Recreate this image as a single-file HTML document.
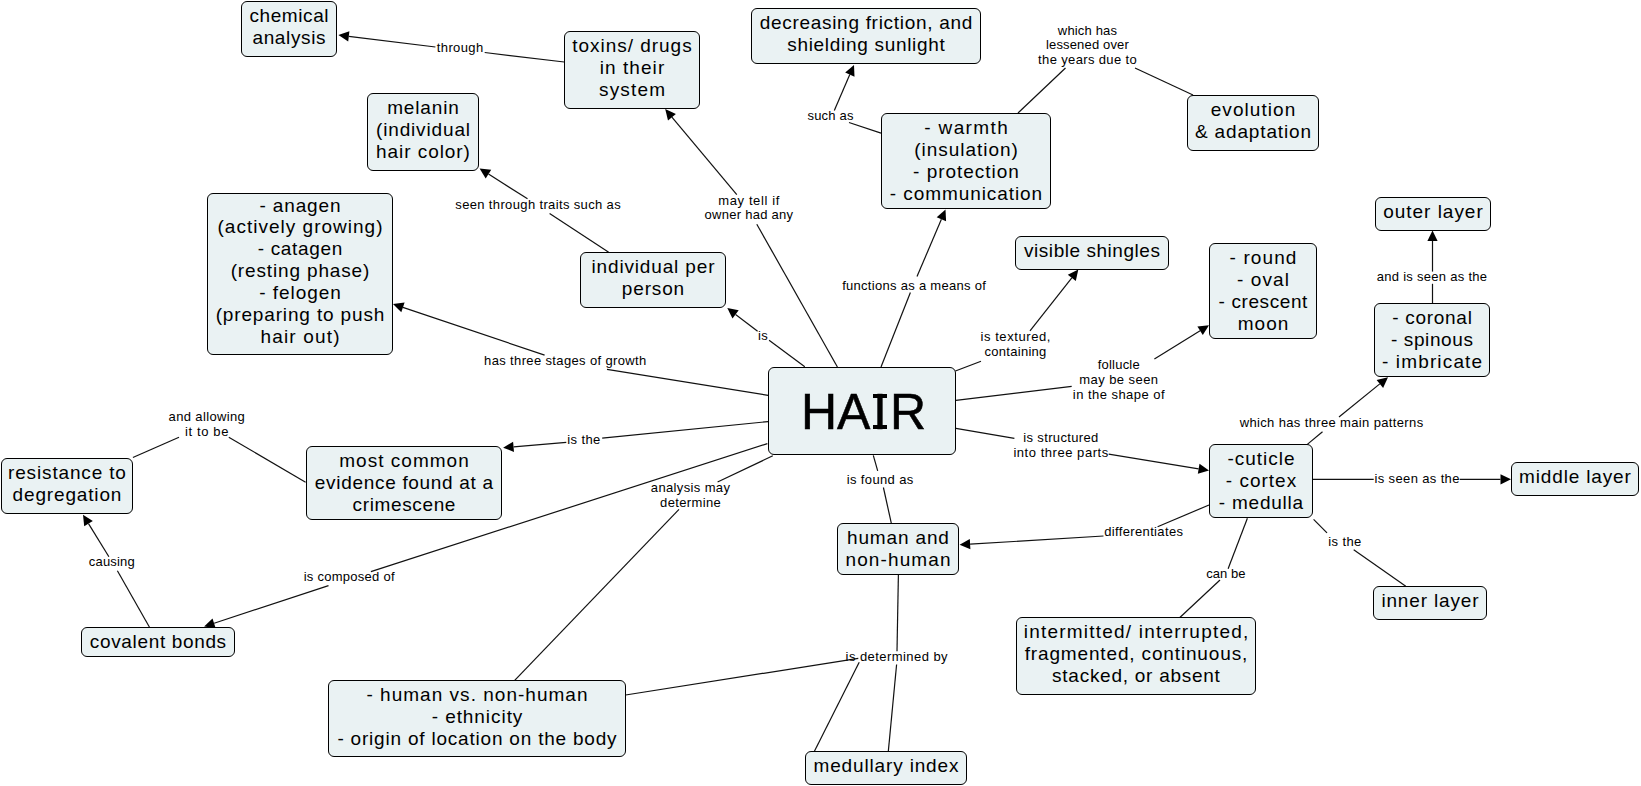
<!DOCTYPE html>
<html><head><meta charset="utf-8"><title>HAIR concept map</title>
<style>
html,body{margin:0;padding:0;background:#fff;}
body{width:1641px;height:786px;position:relative;overflow:hidden;font-family:"Liberation Sans",sans-serif;color:#000;}
.b{position:absolute;box-sizing:border-box;border:1px solid #000;border-radius:6px;background:#eaf2f3;}
.t,.l{position:absolute;white-space:nowrap;line-height:30px;height:30px;transform:translateX(-50%);text-align:center;}
.t{font-size:19.00px;letter-spacing:0.85px;}
.l{font-size:13.00px;letter-spacing:0.36px;}
svg{position:absolute;left:0;top:0;}
</style></head><body>
<svg width="1641" height="786" viewBox="0 0 1641 786">
<g stroke="#111" stroke-width="1.2" fill="none">
<line x1="564.2" y1="62.0" x2="484.7" y2="52.5"/>
<line x1="435.4" y1="47.0" x2="348.8" y2="36.3"/>
<line x1="837.4" y1="367.0" x2="756.8" y2="224.2"/>
<line x1="736.8" y1="194.6" x2="671.9" y2="117.2"/>
<line x1="608.7" y1="252.3" x2="549.6" y2="213.5"/>
<line x1="527.5" y1="198.8" x2="488.5" y2="174.1"/>
<line x1="804.8" y1="366.7" x2="769.1" y2="340.2"/>
<line x1="757.6" y1="331.2" x2="735.6" y2="314.4"/>
<line x1="768.1" y1="395.3" x2="607.0" y2="369.3"/>
<line x1="544.6" y1="355.1" x2="402.9" y2="307.4"/>
<line x1="881.0" y1="367.0" x2="910.4" y2="292.5"/>
<line x1="917.0" y1="276.6" x2="941.4" y2="219.2"/>
<line x1="881.0" y1="133.1" x2="849.0" y2="122.5"/>
<line x1="834.3" y1="110.6" x2="849.8" y2="74.6"/>
<line x1="1018.0" y1="113.0" x2="1065.5" y2="68.0"/>
<line x1="1135.0" y1="68.0" x2="1193.0" y2="95.0"/>
<line x1="955.4" y1="371.0" x2="981.0" y2="361.3"/>
<line x1="1030.0" y1="330.8" x2="1071.8" y2="277.8"/>
<line x1="955.9" y1="400.3" x2="1071.7" y2="386.4"/>
<line x1="1154.4" y1="359.0" x2="1200.1" y2="330.7"/>
<line x1="955.9" y1="428.4" x2="1014.4" y2="438.4"/>
<line x1="1108.7" y1="454.2" x2="1198.6" y2="468.8"/>
<line x1="1307.0" y1="444.6" x2="1322.5" y2="431.7"/>
<line x1="1339.0" y1="417.0" x2="1379.8" y2="383.9"/>
<line x1="1432.5" y1="303.4" x2="1432.5" y2="283.8"/>
<line x1="1432.5" y1="271.6" x2="1432.5" y2="241.0"/>
<line x1="1312.7" y1="479.3" x2="1373.7" y2="479.3"/>
<line x1="1459.7" y1="479.3" x2="1500.5" y2="479.3"/>
<line x1="1313.6" y1="519.4" x2="1327.0" y2="532.8"/>
<line x1="1353.7" y1="549.7" x2="1405.8" y2="586.2"/>
<line x1="1247.4" y1="518.3" x2="1228.1" y2="568.8"/>
<line x1="1220.0" y1="580.0" x2="1179.6" y2="617.8"/>
<line x1="1209.0" y1="505.0" x2="1157.6" y2="526.7"/>
<line x1="1103.5" y1="536.0" x2="970.1" y2="544.2"/>
<line x1="873.3" y1="455.4" x2="877.7" y2="470.8"/>
<line x1="883.4" y1="487.5" x2="891.4" y2="523.6"/>
<line x1="768.1" y1="421.6" x2="602.2" y2="438.2"/>
<line x1="566.3" y1="442.4" x2="513.6" y2="446.8"/>
<line x1="132.9" y1="457.5" x2="179.0" y2="437.2"/>
<line x1="228.8" y1="437.2" x2="305.6" y2="482.3"/>
<line x1="149.5" y1="627.3" x2="117.4" y2="570.8"/>
<line x1="108.9" y1="556.8" x2="88.5" y2="523.6"/>
<line x1="767.4" y1="443.6" x2="370.9" y2="571.6"/>
<line x1="328.5" y1="585.6" x2="214.1" y2="623.3"/>
<line x1="772.8" y1="455.8" x2="717.6" y2="482.0"/>
<line x1="679.0" y1="509.3" x2="514.7" y2="680.4"/>
<line x1="898.4" y1="574.2" x2="897.0" y2="651.3"/>
<line x1="896.6" y1="664.5" x2="888.3" y2="751.6"/>
<line x1="625.6" y1="695.0" x2="858.3" y2="658.4"/>
<line x1="859.2" y1="662.3" x2="814.3" y2="751.6"/>
</g><g fill="#000">
<polygon points="338.4,35.0 349.4,31.2 348.2,41.4"/>
<polygon points="665.2,109.1 675.9,113.9 668.0,120.4"/>
<polygon points="479.6,168.5 491.2,169.8 485.7,178.4"/>
<polygon points="727.3,308.0 738.7,310.3 732.5,318.4"/>
<polygon points="393.0,304.0 404.6,302.5 401.3,312.2"/>
<polygon points="945.5,209.5 946.1,221.2 936.7,217.2"/>
<polygon points="854.0,65.0 854.5,76.7 845.2,72.6"/>
<polygon points="1078.3,269.6 1075.8,281.0 1067.8,274.7"/>
<polygon points="1209.0,325.2 1202.8,335.1 1197.4,326.4"/>
<polygon points="1209.0,470.5 1197.8,473.8 1199.5,463.8"/>
<polygon points="1388.0,377.3 1383.1,387.9 1376.6,379.9"/>
<polygon points="1432.5,230.5 1437.6,241.0 1427.4,241.0"/>
<polygon points="1511.0,479.3 1500.5,484.4 1500.5,474.2"/>
<polygon points="959.6,544.8 969.8,539.1 970.4,549.2"/>
<polygon points="503.1,447.7 513.1,441.7 514.0,451.9"/>
<polygon points="83.0,514.7 92.8,521.0 84.2,526.3"/>
<polygon points="204.1,626.6 212.5,618.5 215.7,628.2"/>
</g></svg>
<div class="b" style="left:241px;top:1px;width:96px;height:56px"></div>
<div class="t" style="left:289.29px;top:1px;letter-spacing:0.579px">chemical</div>
<div class="t" style="left:289.31px;top:23px;letter-spacing:0.621px">analysis</div>
<div class="b" style="left:564px;top:31px;width:136px;height:78px"></div>
<div class="t" style="left:632.48px;top:31px;letter-spacing:0.967px">toxins/ drugs</div>
<div class="t" style="left:632.53px;top:53px;letter-spacing:1.064px">in their</div>
<div class="t" style="left:632.58px;top:75px;letter-spacing:1.150px">system</div>
<div class="b" style="left:751px;top:8px;width:230px;height:56px"></div>
<div class="t" style="left:866.35px;top:8px;letter-spacing:0.707px">decreasing friction, and</div>
<div class="t" style="left:866.35px;top:30px;letter-spacing:0.697px">shielding sunlight</div>
<div class="b" style="left:1187px;top:95px;width:132px;height:56px"></div>
<div class="t" style="left:1253.54px;top:95px;letter-spacing:1.075px">evolution</div>
<div class="t" style="left:1253.42px;top:117px;letter-spacing:0.850px">&amp; adaptation</div>
<div class="b" style="left:367px;top:93px;width:112px;height:78px"></div>
<div class="t" style="left:423.43px;top:93px;letter-spacing:0.850px">melanin</div>
<div class="t" style="left:423.43px;top:115px;letter-spacing:0.850px">(individual</div>
<div class="t" style="left:423.46px;top:137px;letter-spacing:0.930px">hair color)</div>
<div class="b" style="left:881px;top:113px;width:170px;height:96px"></div>
<div class="t" style="left:966.68px;top:113px;letter-spacing:1.364px">- warmth</div>
<div class="t" style="left:966.49px;top:135px;letter-spacing:0.977px">(insulation)</div>
<div class="t" style="left:966.49px;top:157px;letter-spacing:0.977px">- protection</div>
<div class="t" style="left:966.46px;top:179px;letter-spacing:0.921px">- communication</div>
<div class="b" style="left:1375px;top:197px;width:116px;height:34px"></div>
<div class="t" style="left:1433.48px;top:197px;letter-spacing:0.970px">outer layer</div>
<div class="b" style="left:207px;top:193px;width:186px;height:162px"></div>
<div class="t" style="left:300.43px;top:191px;letter-spacing:0.850px">- anagen</div>
<div class="t" style="left:300.50px;top:212px;letter-spacing:1.009px">(actively growing)</div>
<div class="t" style="left:300.34px;top:234px;letter-spacing:0.675px">- catagen</div>
<div class="t" style="left:300.43px;top:256px;letter-spacing:0.850px">(resting phase)</div>
<div class="t" style="left:300.47px;top:278px;letter-spacing:0.938px">- felogen</div>
<div class="t" style="left:300.43px;top:300px;letter-spacing:0.850px">(preparing to push</div>
<div class="t" style="left:300.58px;top:322px;letter-spacing:1.162px">hair out)</div>
<div class="b" style="left:1015px;top:236px;width:154px;height:34px"></div>
<div class="t" style="left:1092.27px;top:236px;letter-spacing:0.543px">visible shingles</div>
<div class="b" style="left:1209px;top:243px;width:108px;height:96px"></div>
<div class="t" style="left:1263.55px;top:243px;letter-spacing:1.100px">- round</div>
<div class="t" style="left:1263.55px;top:265px;letter-spacing:1.090px">- oval</div>
<div class="t" style="left:1263.30px;top:287px;letter-spacing:0.594px">- crescent</div>
<div class="t" style="left:1263.53px;top:309px;letter-spacing:1.050px">moon</div>
<div class="b" style="left:580px;top:252px;width:146px;height:56px"></div>
<div class="t" style="left:653.42px;top:252px;letter-spacing:0.850px">individual per</div>
<div class="t" style="left:653.42px;top:274px;letter-spacing:0.850px">person</div>
<div class="b" style="left:1374px;top:303px;width:116px;height:74px"></div>
<div class="t" style="left:1432.36px;top:303px;letter-spacing:0.725px">- coronal</div>
<div class="t" style="left:1432.30px;top:325px;letter-spacing:0.600px">- spinous</div>
<div class="t" style="left:1432.58px;top:347px;letter-spacing:1.150px">- imbricate</div>
<div class="b" style="left:1px;top:458px;width:132px;height:56px"></div>
<div class="t" style="left:67.42px;top:458px;letter-spacing:0.850px">resistance to</div>
<div class="t" style="left:67.42px;top:480px;letter-spacing:0.850px">degregation</div>
<div class="b" style="left:306px;top:446px;width:196px;height:74px"></div>
<div class="t" style="left:404.51px;top:446px;letter-spacing:1.020px">most common</div>
<div class="t" style="left:404.34px;top:468px;letter-spacing:0.689px">evidence found at a</div>
<div class="t" style="left:404.32px;top:490px;letter-spacing:0.639px">crimescene</div>
<div class="b" style="left:1209px;top:444px;width:104px;height:74px"></div>
<div class="t" style="left:1261.50px;top:444px;letter-spacing:0.993px">-cuticle</div>
<div class="t" style="left:1261.50px;top:466px;letter-spacing:0.993px">- cortex</div>
<div class="t" style="left:1261.38px;top:488px;letter-spacing:0.762px">- medulla</div>
<div class="b" style="left:1511px;top:462px;width:128px;height:34px"></div>
<div class="t" style="left:1575.42px;top:462px;letter-spacing:0.850px">middle layer</div>
<div class="b" style="left:837px;top:523px;width:122px;height:52px"></div>
<div class="t" style="left:898.42px;top:523px;letter-spacing:0.850px">human and</div>
<div class="t" style="left:898.55px;top:545px;letter-spacing:1.100px">non-human</div>
<div class="b" style="left:81px;top:627px;width:154px;height:30px"></div>
<div class="t" style="left:158.32px;top:627px;letter-spacing:0.650px">covalent bonds</div>
<div class="b" style="left:1373px;top:586px;width:114px;height:34px"></div>
<div class="t" style="left:1430.42px;top:586px;letter-spacing:0.850px">inner layer</div>
<div class="b" style="left:1016px;top:617px;width:240px;height:78px"></div>
<div class="t" style="left:1136.61px;top:617px;letter-spacing:1.212px">intermitted/ interrupted,</div>
<div class="t" style="left:1136.42px;top:639px;letter-spacing:0.850px">fragmented, continuous,</div>
<div class="t" style="left:1136.37px;top:661px;letter-spacing:0.738px">stacked, or absent</div>
<div class="b" style="left:328px;top:680px;width:298px;height:77px"></div>
<div class="t" style="left:477.51px;top:680px;letter-spacing:1.020px">- human vs. non-human</div>
<div class="t" style="left:477.47px;top:702px;letter-spacing:0.940px">- ethnicity</div>
<div class="t" style="left:477.40px;top:724px;letter-spacing:0.795px">- origin of location on the body</div>
<div class="b" style="left:805px;top:751px;width:162px;height:34px"></div>
<div class="t" style="left:886.42px;top:751px;letter-spacing:0.850px">medullary index</div>
<div class="b" style="left:768px;top:367px;width:188px;height:88px"></div>
<div class="hair" style="position:absolute;left:0;top:382px;width:1641px;height:60px;font-size:50px;line-height:60px;-webkit-text-stroke:0.5px #000;white-space:nowrap"><span style="position:absolute;left:801px">H</span><span style="position:absolute;left:837px">A</span><span style="position:absolute;left:873px">I</span><span style="position:absolute;left:890px">R</span></div>
<div style="position:absolute;left:873px;top:394px;width:14px;height:4px;background:#000"></div>
<div style="position:absolute;left:873px;top:425px;width:14px;height:4px;background:#000"></div>
<div class="l" style="left:460.18px;top:33px;letter-spacing:0.360px">through</div>
<div class="l" style="left:830.61px;top:101px;letter-spacing:0.227px">such as</div>
<div class="l" style="left:749.10px;top:186px;letter-spacing:0.610px">may tell if</div>
<div class="l" style="left:748.94px;top:200px;letter-spacing:0.277px">owner had any</div>
<div class="l" style="left:1087.48px;top:16px;letter-spacing:0.160px">which has</div>
<div class="l" style="left:1087.48px;top:30px;letter-spacing:0.160px">lessened over</div>
<div class="l" style="left:1087.58px;top:45px;letter-spacing:0.360px">the years due to</div>
<div class="l" style="left:538.18px;top:190px;letter-spacing:0.360px">seen through traits such as</div>
<div class="l" style="left:914.15px;top:271px;letter-spacing:0.292px">functions as a means of</div>
<div class="l" style="left:763.18px;top:321px;letter-spacing:0.360px">is</div>
<div class="l" style="left:565.38px;top:346px;letter-spacing:0.360px">has three stages of growth</div>
<div class="l" style="left:1015.69px;top:322px;letter-spacing:0.578px">is textured,</div>
<div class="l" style="left:1015.55px;top:337px;letter-spacing:0.293px">containing</div>
<div class="l" style="left:1118.81px;top:350px;letter-spacing:0.217px">follucle</div>
<div class="l" style="left:1118.92px;top:365px;letter-spacing:0.440px">may be seen</div>
<div class="l" style="left:1118.93px;top:380px;letter-spacing:0.460px">in the shape of</div>
<div class="l" style="left:1060.98px;top:423px;letter-spacing:0.360px">is structured</div>
<div class="l" style="left:1061.07px;top:438px;letter-spacing:0.533px">into three parts</div>
<div class="l" style="left:1331.58px;top:408px;letter-spacing:0.360px">which has three main patterns</div>
<div class="l" style="left:1432.04px;top:262px;letter-spacing:0.284px">and is seen as the</div>
<div class="l" style="left:1417.18px;top:464px;letter-spacing:0.360px">is seen as the</div>
<div class="l" style="left:1344.98px;top:527px;letter-spacing:0.360px">is the</div>
<div class="l" style="left:1225.92px;top:559px;letter-spacing:0.040px">can be</div>
<div class="l" style="left:1143.78px;top:517px;letter-spacing:0.360px">differentiates</div>
<div class="l" style="left:880.18px;top:465px;letter-spacing:0.360px">is found as</div>
<div class="l" style="left:583.98px;top:425px;letter-spacing:0.360px">is the</div>
<div class="l" style="left:206.88px;top:402px;letter-spacing:0.360px">and allowing</div>
<div class="l" style="left:207.02px;top:417px;letter-spacing:0.646px">it to be</div>
<div class="l" style="left:111.90px;top:547px;letter-spacing:0.193px">causing</div>
<div class="l" style="left:349.23px;top:562px;letter-spacing:0.260px">is composed of</div>
<div class="l" style="left:690.58px;top:473px;letter-spacing:0.360px">analysis may</div>
<div class="l" style="left:690.58px;top:488px;letter-spacing:0.360px">determine</div>
<div class="l" style="left:896.82px;top:642px;letter-spacing:0.440px">is determined by</div>
</body></html>
